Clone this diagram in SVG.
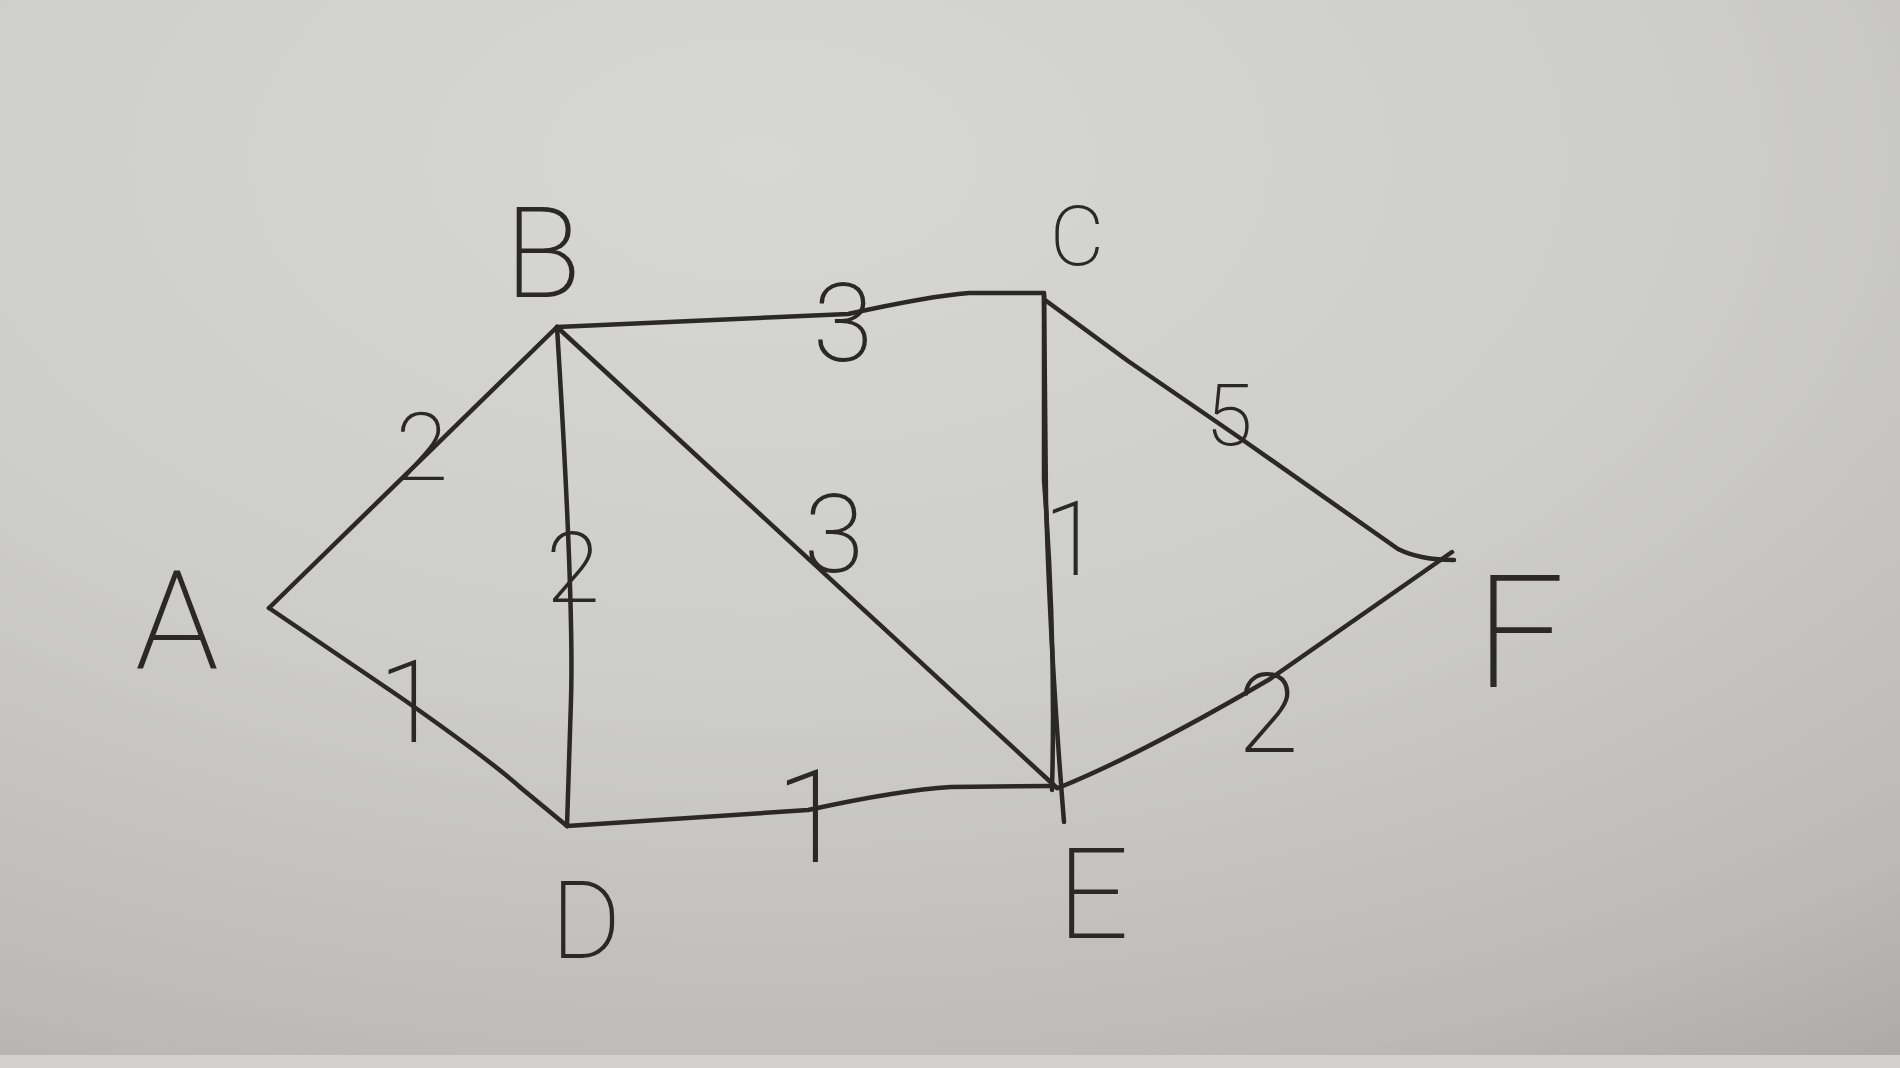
<svg xmlns="http://www.w3.org/2000/svg" width="1900" height="1068" viewBox="0 0 1900 1068">
  <defs>
    <radialGradient id="paper" cx="0.4" cy="0.15" r="1.1" gradientUnits="objectBoundingBox">
      <stop offset="0" stop-color="#d7d7d6"/>
      <stop offset="0.45" stop-color="#cdcdcc"/>
      <stop offset="0.8" stop-color="#bcbab8"/>
      <stop offset="1" stop-color="#a6a3a0"/>
    </radialGradient>
    <style>
      .edge { fill: none; stroke: #2b2927; stroke-width: 4.5; stroke-linecap: round; stroke-linejoin: round; }
      .lbl { font-family: Roboto, Inter, Lato, "Liberation Sans", sans-serif; font-weight: 200; fill: #2b2927; text-anchor: middle; }
    </style>
  </defs>
  <rect x="0" y="0" width="1900" height="1068" fill="url(#paper)"/>
  <rect x="0" y="1055" width="1900" height="13" fill="#d3d1ce"/>

  <g id="connectors">
    <path id="e-A-B" class="edge" d="M269,608 L557,327"/>
    <path id="e-A-D" class="edge" d="M269,608 L400,697 Q490,760 521,788 L567,826"/>
    <path id="e-B-D" class="edge" d="M557,327 Q574,600 571,700 L567,826"/>
    <path id="e-B-C" class="edge" d="M557,327 L848,314 Q930,296 969,293 L1044,293"/>
    <path id="e-B-E" class="edge" d="M557,327 L1057,788"/>
    <path id="e-C-E" class="edge" d="M1044,293 L1046,500 Q1050,650 1064,822"/>
    <path id="e-C-E2" class="edge" d="M1044,295 L1044,480 Q1056,640 1052,790" stroke-width="3"/>
    <path id="e-C-F" class="edge" d="M1045,300 L1128,361 L1240,438 L1398,549 Q1420,560 1454,560"/>
    <path id="e-D-E" class="edge" d="M567,826 L808,810 Q900,790 951,787 L1052,786"/>
    <path id="e-E-F" class="edge" d="M1058,788 Q1140,755 1270,679 L1452,552"/>
    <g id="edge-labels">
      <text class="lbl" x="422" y="480" font-size="95">2</text>
      <text class="lbl" x="410" y="742" font-size="115">1</text>
      <text class="lbl" x="843" y="361" font-size="110">3</text>
      <text class="lbl" x="573" y="602" font-size="98">2</text>
      <text class="lbl" x="834" y="572" font-size="110">3</text>
      <text class="lbl" x="1072" y="575" font-size="104">1</text>
      <text class="lbl" x="1229" y="445" font-size="86">5</text>
      <text class="lbl" x="811" y="862" font-size="130">1</text>
      <text class="lbl" x="1268" y="752" font-size="111">2</text>
    </g>
  </g>

  <g id="node-A"><text class="lbl" x="177" y="668" font-size="138">A</text></g>
  <g id="node-B"><text class="lbl" x="543" y="297" font-size="126">B</text></g>
  <g id="node-C"><text class="lbl" x="1077" y="265" font-size="84">C</text></g>
  <g id="node-D"><text class="lbl" x="586" y="958" font-size="107">D</text></g>
  <g id="node-E"><text class="lbl" x="1093" y="938" font-size="126">E</text></g>
  <g id="node-F"><text class="lbl" x="1520" y="687" font-size="157">F</text></g>
</svg>
